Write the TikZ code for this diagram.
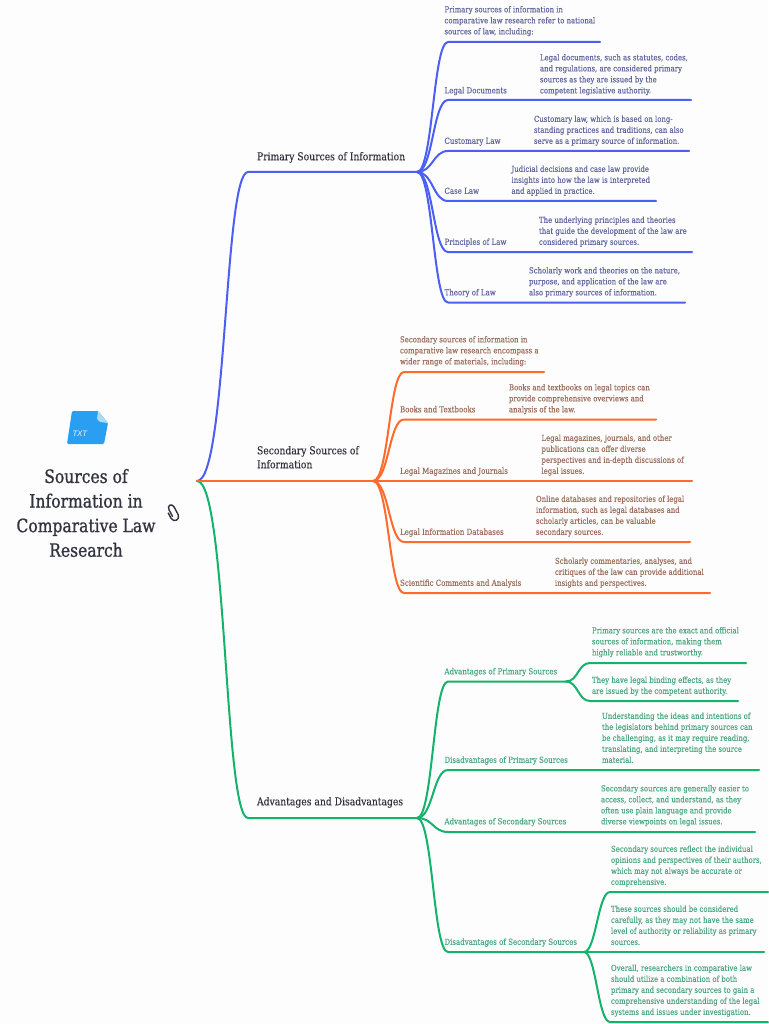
\documentclass[tikz,border=0pt]{standalone}
\usepackage{fontspec}
\setmainfont{DejaVu Serif}[FakeStretch=0.85]
\newfontfamily\titlefont{DejaVu Serif}[FakeStretch=0.85,FakeBold=1]
\newfontfamily\bodyfont{DejaVu Serif}[FakeStretch=0.85,FakeBold=0.15]
\setsansfont{DejaVu Sans}
\definecolor{bgc}{HTML}{FDFDFD}
\definecolor{wblue}{HTML}{4C5FF5}
\definecolor{worange}{HTML}{FF6B2C}
\definecolor{wgreen}{HTML}{14B36B}
\definecolor{tblue}{HTML}{62679F}
\definecolor{torange}{HTML}{9C6E5C}
\definecolor{tgreen}{HTML}{4CA881}
\definecolor{tdark}{HTML}{333340}
\definecolor{iconb}{HTML}{2A9FF2}
\definecolor{iconf}{HTML}{A9DBF7}
\tikzset{
  x=1pt,y=-1pt,
  txt/.style={anchor=south west,inner sep=0pt,outer sep=0pt,text depth=0pt,align=left,yshift=0.7pt},
  topic/.style={txt,text=tdark,font=\bodyfont\fontsize{10.85}{14}\selectfont},
  sub/.style={txt,font=\bodyfont\fontsize{8.3}{11}\selectfont},
  leaf/.style={txt,font=\bodyfont\fontsize{8.15}{11}\selectfont},
  wire/.style={line width=2pt,line cap=round,line join=round},
  bw/.style={wire,draw=wblue},
  ow/.style={wire,draw=worange},
  gw/.style={wire,draw=wgreen},
  bt/.style={text=tblue},
  ot/.style={text=torange},
  gt/.style={text=tgreen},
}
\newcommand{\twig}[8]{\coordinate (#3s) at (#6,#7);\coordinate (#3) at (#8,#7);
  \draw[#1] (#2) .. controls +(#4,0) and +(#5,0) .. (#3s) -- (#3);}
\begin{document}
\begin{tikzpicture}
\useasboundingbox (0,0) rectangle (768,1024);
\fill[bgc] (0,0) rectangle (768,1024);

% icon
\fill[iconb,rounded corners=1.2pt] (72,411) -- (98,411) -- (108,423) -- (104,444) -- (67,444) -- cycle;
\fill[iconf,rounded corners=0.8pt] (98,411) -- (108,423) -- (100,422) -- (97,419) -- cycle;
\node[inner sep=0pt,text=white!88!iconb,font=\sffamily\fontsize{7.5}{8}\selectfont\itshape] (icontxt) at (80,434) {TXT};

% title
\node[inner sep=0pt,align=center,text=tdark,font=\titlefont\fontsize{18.3}{24.6}\selectfont] (title) at (86,513)
  {Sources of\\Information in\\Comparative Law\\Research};

% paperclip
\begin{scope}[shift={(172.5,512.5)},rotate=28]
\draw[line width=1.4pt,draw=tdark,line cap=round,line join=round]
  (-1.8,3.5) -- (-1.8,-4) .. controls (-1.8,-9) and (4,-9) .. (4,-4)
  -- (4,4.5) .. controls (4,10) and (-4,10) .. (-4,4.5) -- (-4,-1.5);
\end{scope}

\coordinate (root) at (197,481);
\coordinate (hubA) at (417,172);
\coordinate (hubB) at (373,481);
\coordinate (hubC) at (417,818);
\coordinate (hubG) at (566,681.5);
\coordinate (hubH) at (584,952);

% green / blue / orange trunks
\twig{gw}{root}{trunkC}{30}{-24}{248}{818}{417}
\twig{bw}{root}{trunkA}{30}{-24}{248}{172}{417}
\draw[ow] (root) -- (hubB);

% blue branches
\twig{bw}{hubA}{a0}{16}{-15}{448}{42}{600}
\twig{bw}{hubA}{a1}{16}{-15}{448}{100}{691}
\twig{bw}{hubA}{a2}{16}{-15}{448}{151}{689}
\twig{bw}{hubA}{a3}{16}{-15}{448}{201}{656}
\twig{bw}{hubA}{a4}{16}{-15}{448}{252}{692}
\twig{bw}{hubA}{a5}{16}{-15}{448}{302.5}{685}
% orange branches
\twig{ow}{hubB}{b0}{16}{-15}{404}{372}{544}
\twig{ow}{hubB}{b1}{16}{-15}{404}{419.5}{656}
\draw[ow] (hubB) -- (692,481) coordinate (b2);
\twig{ow}{hubB}{b3}{16}{-15}{404}{542}{690}
\twig{ow}{hubB}{b4}{16}{-15}{404}{593}{710}
% green branches
\twig{gw}{hubC}{c0}{16}{-15}{448}{681.5}{566}
\twig{gw}{hubC}{c1}{16}{-15}{448}{770}{759}
\twig{gw}{hubC}{c2}{16}{-15}{448}{832}{755}
\twig{gw}{hubC}{c3}{16}{-15}{448}{952}{584}
\twig{gw}{hubG}{g0}{12}{-12}{590}{663}{746}
\twig{gw}{hubG}{g1}{12}{-12}{590}{701}{738}
\twig{gw}{hubH}{h0}{12}{-12}{610}{892}{768}
\draw[gw] (hubH) -- (764,952) coordinate (h1);
\twig{gw}{hubH}{h2}{12}{-12}{610}{1022}{768}

% topics
\node[topic] (tA) at (257,161) {Primary Sources of Information};
\node[topic] (tB) at (257,469) {Secondary Sources of\\Information};
\node[topic] (tC) at (257,806) {Advantages and Disadvantages};

% blue text
\node[leaf,bt] (a0t) at (444.5,35) {Primary sources of information in\\comparative law research refer to national\\sources of law, including:};
\node[sub,bt] (a1t) at (444.5,94) {Legal Documents};
\node[leaf,bt] (a1d) at (540,94) {Legal documents, such as statutes, codes,\\and regulations, are considered primary\\sources as they are issued by the\\competent legislative authority.};
\node[sub,bt] (a2t) at (444.5,144.5) {Customary Law};
\node[leaf,bt] (a2d) at (534,144.5) {Customary law, which is based on long-\\standing practices and traditions, can also\\serve as a primary source of information.};
\node[sub,bt] (a3t) at (444.5,194.5) {Case Law};
\node[leaf,bt] (a3d) at (511.5,194.5) {Judicial decisions and case law provide\\insights into how the law is interpreted\\and applied in practice.};
\node[sub,bt] (a4t) at (444.5,245.5) {Principles of Law};
\node[leaf,bt] (a4d) at (539,245.5) {The underlying principles and theories\\that guide the development of the law are\\considered primary sources.};
\node[sub,bt] (a5t) at (444.5,296) {Theory of Law};
\node[leaf,bt] (a5d) at (529,296) {Scholarly work and theories on the nature,\\purpose, and application of the law are\\also primary sources of information.};

% orange text
\node[leaf,ot] (b0t) at (400,365) {Secondary sources of information in\\comparative law research encompass a\\wider range of materials, including:};
\node[sub,ot] (b1t) at (400,413) {Books and Textbooks};
\node[leaf,ot] (b1d) at (509,413) {Books and textbooks on legal topics can\\provide comprehensive overviews and\\analysis of the law.};
\node[sub,ot] (b2t) at (400,474.5) {Legal Magazines and Journals};
\node[leaf,ot] (b2d) at (541.5,474.5) {Legal magazines, journals, and other\\publications can offer diverse\\perspectives and in-depth discussions of\\legal issues.};
\node[sub,ot] (b3t) at (400,535.5) {Legal Information Databases};
\node[leaf,ot] (b3d) at (536,535.5) {Online databases and repositories of legal\\information, such as legal databases and\\scholarly articles, can be valuable\\secondary sources.};
\node[sub,ot] (b4t) at (400,586.5) {Scientific Comments and Analysis};
\node[leaf,ot] (b4d) at (555,586.5) {Scholarly commentaries, analyses, and\\critiques of the law can provide additional\\insights and perspectives.};

% green text
\node[sub,gt] (c0t) at (444.5,675) {Advantages of Primary Sources};
\node[leaf,gt] (g0d) at (592,656) {Primary sources are the exact and official\\sources of information, making them\\highly reliable and trustworthy.};
\node[leaf,gt] (g1d) at (592,694.5) {They have legal binding effects, as they\\are issued by the competent authority.};
\node[sub,gt] (c1t) at (444.5,763.5) {Disadvantages of Primary Sources};
\node[leaf,gt] (c1d) at (602,763.5) {Understanding the ideas and intentions of\\the legislators behind primary sources can\\be challenging, as it may require reading,\\translating, and interpreting the source\\material.};
\node[sub,gt] (c2t) at (444.5,825) {Advantages of Secondary Sources};
\node[leaf,gt] (c2d) at (601,825) {Secondary sources are generally easier to\\access, collect, and understand, as they\\often use plain language and provide\\diverse viewpoints on legal issues.};
\node[sub,gt] (c3t) at (444.5,945.5) {Disadvantages of Secondary Sources};
\node[leaf,gt] (h0d) at (611,885.5) {Secondary sources reflect the individual\\opinions and perspectives of their authors,\\which may not always be accurate or\\comprehensive.};
\node[leaf,gt] (h1d) at (611,945.5) {These sources should be considered\\carefully, as they may not have the same\\level of authority or reliability as primary\\sources.};
\node[leaf,gt] (h2d) at (611,1015.5) {Overall, researchers in comparative law\\should utilize a combination of both\\primary and secondary sources to gain a\\comprehensive understanding of the legal\\systems and issues under investigation.};
\end{tikzpicture}
\end{document}
